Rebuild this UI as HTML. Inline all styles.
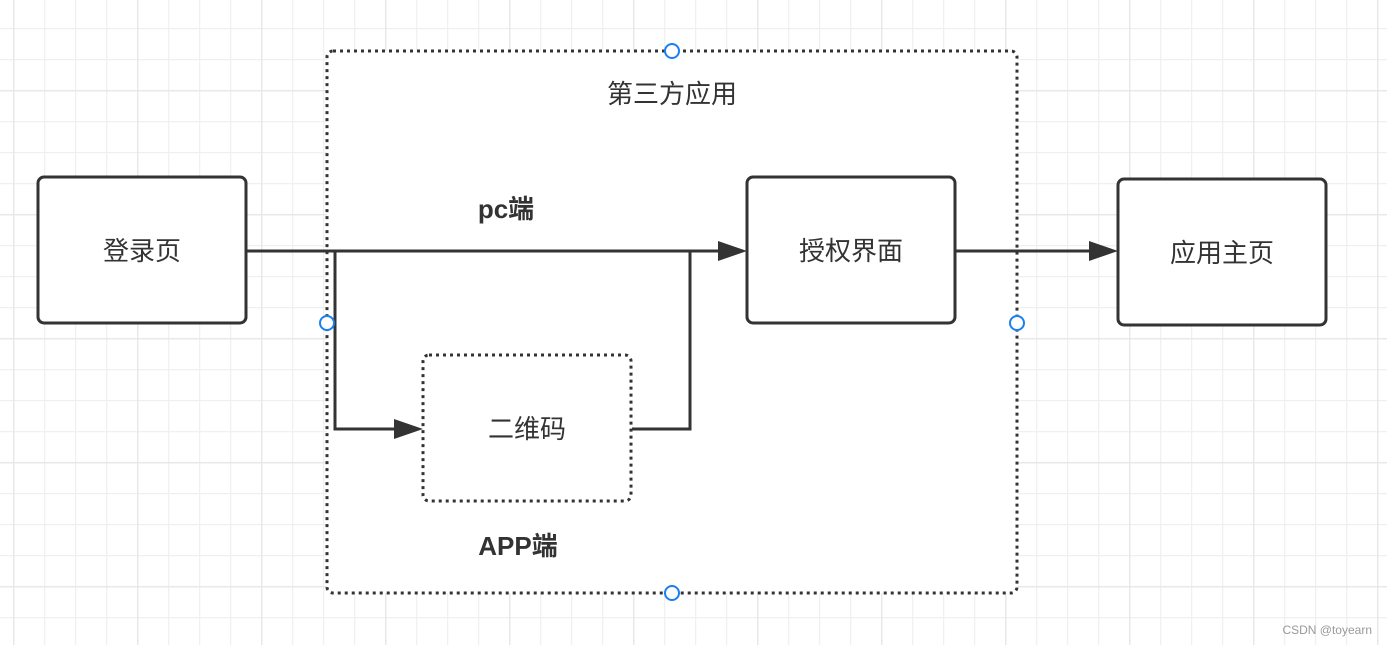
<!DOCTYPE html>
<html><head><meta charset="utf-8"><style>
html,body{margin:0;padding:0;background:#fff;}
svg{display:block;}
text{font-family:"Liberation Sans","Noto Sans CJK SC",sans-serif;fill:#333;}
</style></head><body>
<svg width="1387" height="645" viewBox="0 0 1387 645" xmlns="http://www.w3.org/2000/svg">
<defs>
<pattern id="g" x="13" y="28" width="31" height="31" patternUnits="userSpaceOnUse">
<path d="M0.5 0V31M0 0.5H31" stroke="#f0f0f0" stroke-width="1.5" fill="none"/>
</pattern>
<pattern id="G" x="137" y="90" width="124" height="124" patternUnits="userSpaceOnUse">
<path d="M0.5 0V124M0 0.5H124" stroke="#e8e8e8" stroke-width="2" fill="none"/>
</pattern>
</defs>
<rect width="1387" height="645" fill="url(#g)"/>
<rect width="1387" height="645" fill="url(#G)"/>
<rect x="327" y="51" width="690" height="542" rx="6" fill="#fff" stroke="#333" stroke-width="3" stroke-dasharray="3 4"/>
<rect x="38" y="177" width="208" height="146" rx="6" fill="#fff" stroke="#333" stroke-width="3"/>
<rect x="747" y="177" width="208" height="146" rx="6" fill="#fff" stroke="#333" stroke-width="3"/>
<rect x="1118" y="179" width="208" height="146" rx="6" fill="#fff" stroke="#333" stroke-width="3"/>
<rect x="423" y="355" width="208" height="146" rx="6" fill="#fff" stroke="#333" stroke-width="3" stroke-dasharray="3 4"/>
<g stroke="#333" stroke-width="3" fill="none">
<path d="M247 251H728"/>
<path d="M335 251V429H404"/>
<path d="M632 429H690V251"/>
<path d="M956 251H1099"/>
</g>
<path d="M718 241L747 251L718 261Z" fill="#333"/>
<path d="M394 419L423 429L394 439Z" fill="#333"/>
<path d="M1089 241L1118 251L1089 261Z" fill="#333"/>
<g fill="#fff" stroke="#1a7ff0" stroke-width="2">
<circle cx="672" cy="51" r="7"/><circle cx="327" cy="323" r="7"/><circle cx="1017" cy="323" r="7"/><circle cx="672" cy="593" r="7"/>
</g>
<g font-size="26" text-anchor="middle">
<text x="142" y="260">登录页</text>
<text x="851" y="260">授权界面</text>
<text x="1222" y="262">应用主页</text>
<text x="527" y="438">二维码</text>
<text x="672" y="103">第三方应用</text>
</g>
<text x="506" y="218" font-size="26" font-weight="bold" text-anchor="middle">pc端</text>
<text x="518" y="555" font-size="26" font-weight="bold" text-anchor="middle">APP端</text>
<text x="1372" y="634" font-size="12" text-anchor="end" style="fill:#999">CSDN @toyearn</text>
</svg>
</body></html>
